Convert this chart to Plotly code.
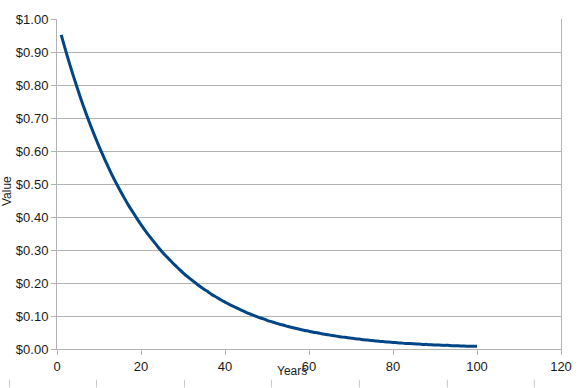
import plotly.graph_objects as go

years = list(range(1, 101))
values = [0.952, 0.907, 0.864, 0.823, 0.784, 0.746, 0.711, 0.677, 0.645, 0.614,
          0.585, 0.557, 0.530, 0.505, 0.481, 0.458, 0.436, 0.416, 0.396, 0.377,
          0.359, 0.342, 0.326, 0.310, 0.295, 0.281, 0.268, 0.255, 0.243, 0.231,
          0.220, 0.210, 0.200, 0.190, 0.181, 0.173, 0.164, 0.157, 0.149, 0.142,
          0.135, 0.129, 0.123, 0.117, 0.111, 0.106, 0.101, 0.096, 0.092, 0.087,
          0.083, 0.079, 0.075, 0.072, 0.068, 0.065, 0.062, 0.059, 0.056, 0.054,
          0.051, 0.049, 0.046, 0.044, 0.042, 0.040, 0.038, 0.036, 0.035, 0.033,
          0.031, 0.030, 0.028, 0.027, 0.026, 0.024, 0.023, 0.022, 0.021, 0.020,
          0.019, 0.018, 0.017, 0.017, 0.016, 0.015, 0.014, 0.014, 0.013, 0.012,
          0.012, 0.011, 0.011, 0.010, 0.010, 0.009, 0.009, 0.008, 0.008, 0.008]

x_ticks = [0, 20, 40, 60, 80, 100, 120]
y_ticks = [round(i * 0.1, 1) for i in range(11)]
y_labels = ["$%.2f" % v for v in y_ticks]

W, H = 584, 388
L, R, T, B = 57, 17, 16, 39
pw = W - L - R
ph = H - T - B

fig = go.Figure()
fig.add_trace(go.Scatter(x=years, y=values, mode="lines",
                         line=dict(color="#004586", width=3, shape="spline", smoothing=0.6),
                         hoverinfo="x+y"))

grid = "#b3b3b3"
font = dict(family="Liberation Sans, Arial, sans-serif", size=13, color="#1a1a1a")

# faint decorative tick marks along the bottom edge
shapes = []
for px in [9, 97, 186, 274, 363, 452, 540]:
    xp = (px - L) / pw
    shapes.append(dict(type="line", xref="paper", yref="paper",
                       x0=xp, x1=xp, y0=-(380 - (H - B)) / ph,
                       y1=-(388 - (H - B)) / ph,
                       line=dict(color="#c8c8c8", width=1)))

fig.update_layout(
    width=W, height=H, autosize=False,
    margin=dict(l=L, r=R, t=T, b=B, pad=0),
    paper_bgcolor="white", plot_bgcolor="white",
    showlegend=False,
    font=font,
    xaxis=dict(range=[0, 120], tickvals=x_ticks, showgrid=False,
               showline=True, linecolor=grid, linewidth=1,
               ticks="outside", ticklen=5, tickcolor=grid,
               zeroline=False, tickfont=font),
    yaxis=dict(range=[0, 1.0], tickvals=y_ticks, ticktext=y_labels,
               showgrid=True, gridcolor=grid, gridwidth=1,
               showline=True, linecolor=grid, linewidth=1, mirror=True,
               ticks="outside", ticklen=5, tickcolor=grid,
               zeroline=False, tickfont=font),
    shapes=shapes,
    annotations=[
        dict(text="Years", xref="paper", yref="paper",
             x=(295 - L) / pw, y=-(371 - (H - B)) / ph,
             showarrow=False, font=dict(family=font["family"], size=12, color="#1a1a1a"),
             xanchor="center", yanchor="middle"),
        dict(text="Value", xref="paper", yref="paper",
             x=(7 - L) / pw, y=(H - B - 190) / ph, textangle=-90,
             showarrow=False, font=dict(family=font["family"], size=12, color="#1a1a1a"),
             xanchor="center", yanchor="middle"),
    ],
)

css = ("var s=document.createElement('style');"
       "s.textContent='html,body{margin:0!important;padding:0!important;overflow:hidden!important;"
       "width:%dpx;height:%dpx;}::-webkit-scrollbar{width:0!important;height:0!important;display:none;}"
       ".main-svg{overflow:hidden!important;}';"
       "document.head.appendChild(s);" % (W, H))

fig.write_html("out.html",
               config={"displayModeBar": False},
               post_script=css)
